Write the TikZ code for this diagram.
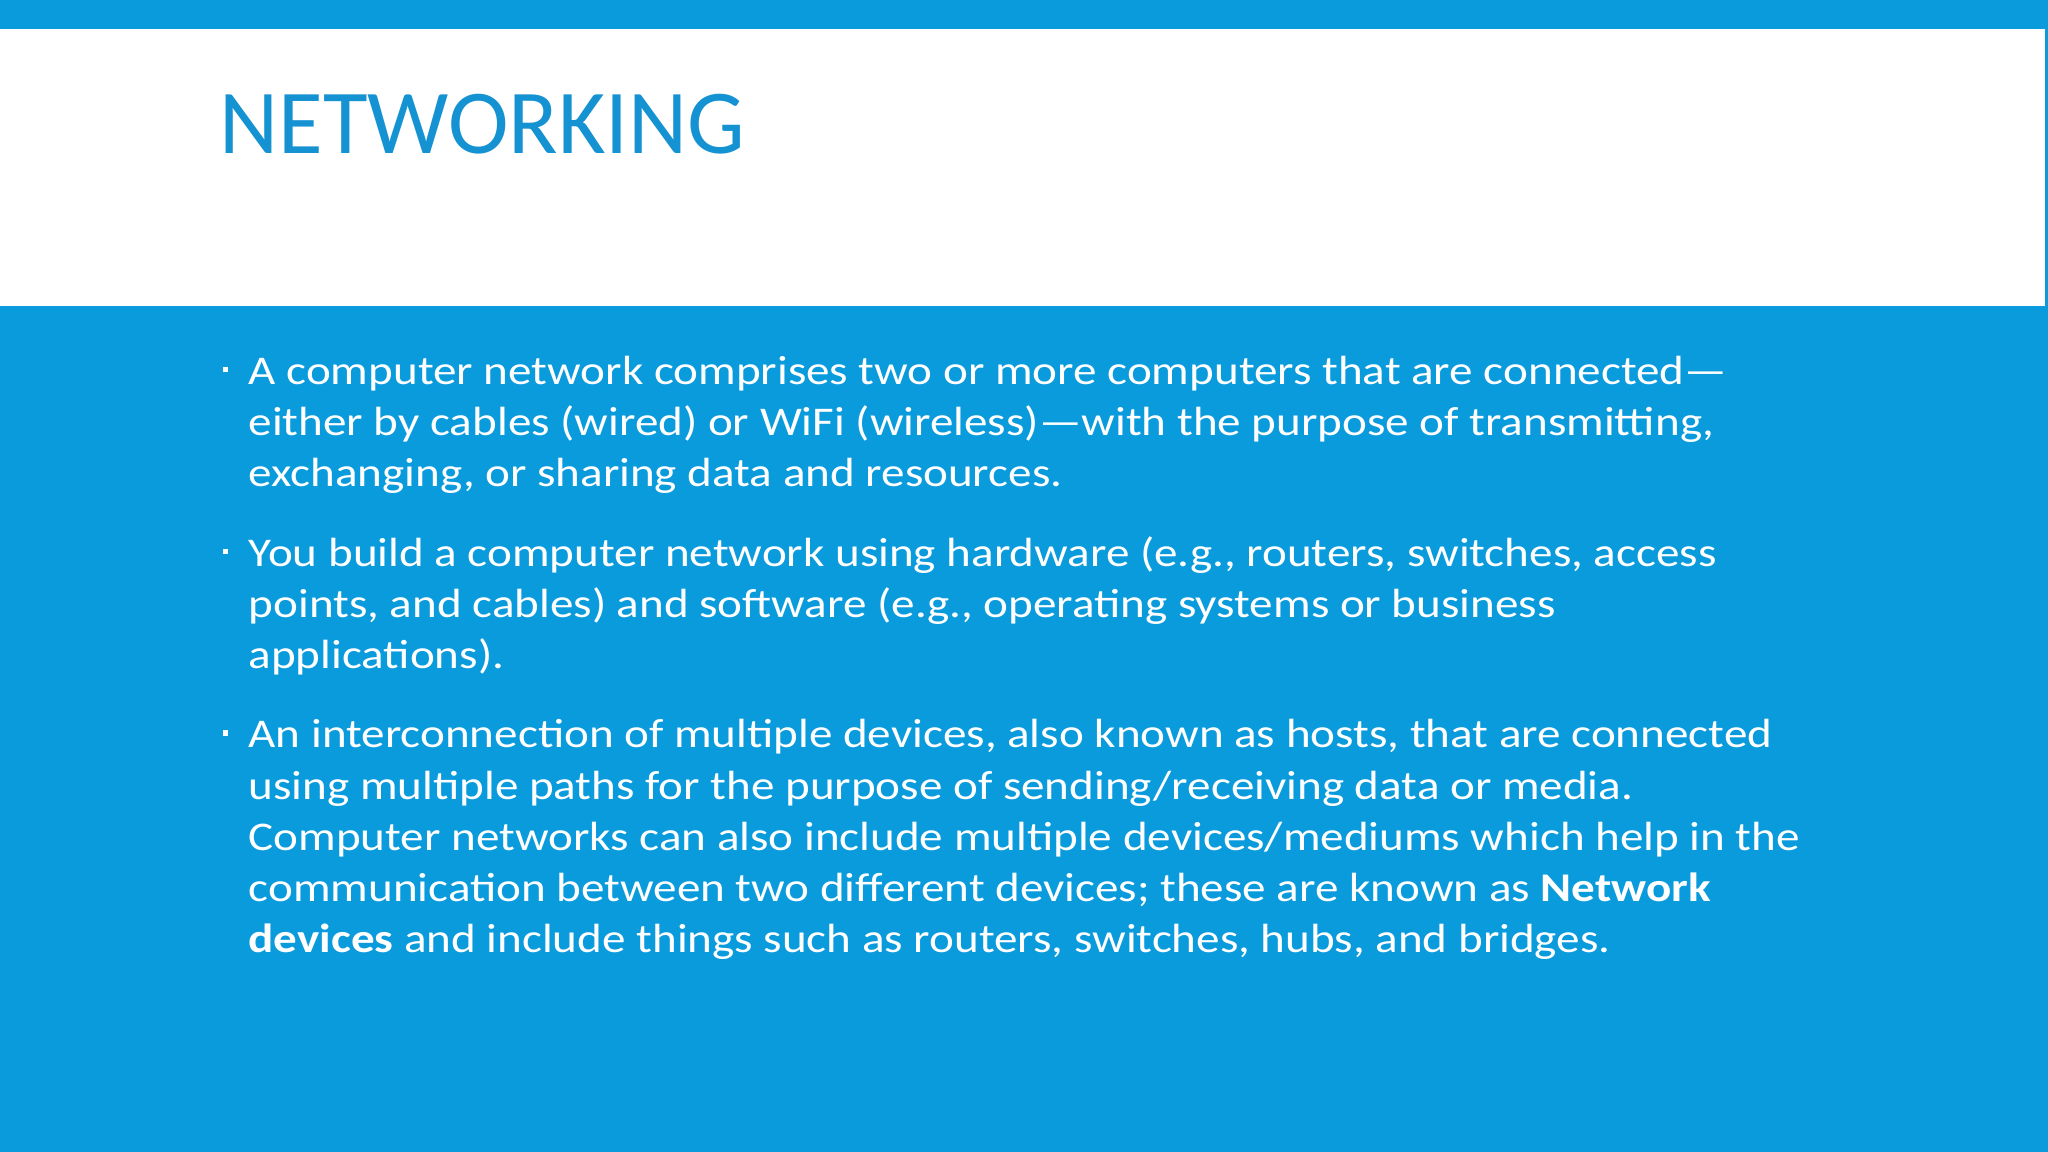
\documentclass[tikz,border=0pt]{standalone}
\usepackage{fontspec}
\setmainfont{Carlito}
\newfontfamily\bodyfont[FakeStretch=1.155]{Carlito}
\definecolor{bg}{HTML}{0A9BDD}
\definecolor{ttl}{HTML}{1592D2}
\begin{document}
\begin{tikzpicture}[x=1cm,y=1cm,
  ln/.style={anchor=base west,inner sep=0,text=white,font=\bodyfont\fontsize{11.6pt}{14pt}\selectfont},
  blt/.style={fill=white,minimum size=0.05cm,inner sep=0}]
\useasboundingbox (0,0) rectangle (20.48,-11.52);
\fill[bg] (0,0) rectangle (20.48,-11.52);
\fill[white] (0,-0.29) rectangle (20.45,-3.06);
\node[anchor=base west,inner sep=0,text=ttl,font=\fontsize{26pt}{30pt}\selectfont] (title) at (2.19,-1.54) {NETWORKING};
\node[blt] (b1) at (2.25,-3.70) {};
\node[ln] (l1) at (2.48,-3.85) {A computer network comprises two or more computers that are connected—};
\node[ln] (l2) at (2.48,-4.36) {either by cables (wired) or WiFi (wireless)—with the purpose of transmitting,};
\node[ln] (l3) at (2.48,-4.87) {exchanging, or sharing data and resources.};
\node[blt] (b2) at (2.25,-5.52) {};
\node[ln] (l4) at (2.48,-5.67) {You build a computer network using hardware (e.g., routers, switches, access};
\node[ln] (l5) at (2.48,-6.18) {points, and cables) and software (e.g., operating systems or business};
\node[ln] (l6) at (2.48,-6.69) {applications).};
\node[blt] (b3) at (2.25,-7.33) {};
\node[ln] (l7) at (2.48,-7.48) {An interconnection of multiple devices, also known as hosts, that are connected};
\node[ln] (l8) at (2.48,-7.99) {using multiple paths for the purpose of sending/receiving data or media.};
\node[ln] (l9) at (2.48,-8.50) {Computer networks can also include multiple devices/mediums which help in the};
\node[ln] (l10) at (2.48,-9.01) {communication between two different devices; these are known as \textbf{Network}};
\node[ln] (l11) at (2.48,-9.52) {\textbf{devices} and include things such as routers, switches, hubs, and bridges.};
\end{tikzpicture}
\end{document}
